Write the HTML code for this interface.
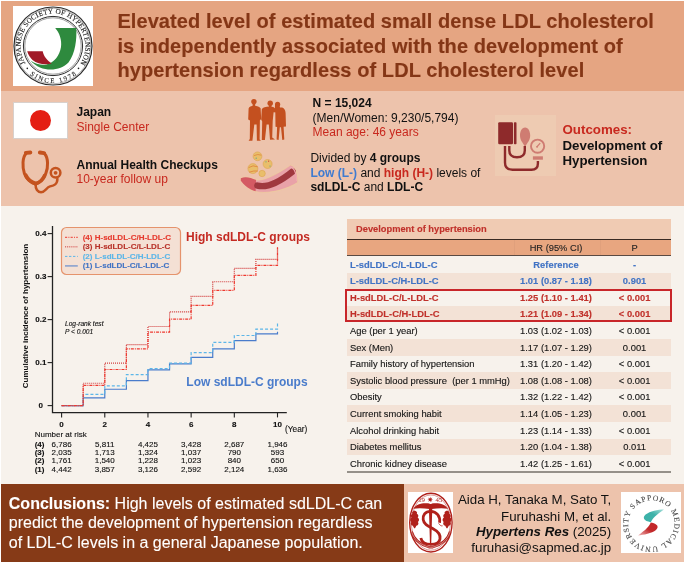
<!DOCTYPE html>
<html><head><meta charset="utf-8"><style>
html,body{margin:0;padding:0}
body{width:685px;height:563px;position:relative;overflow:hidden;background:#fff;font-family:"Liberation Sans",sans-serif;will-change:transform}
.abs{position:absolute}
.t{position:absolute;white-space:pre}
.s{-webkit-text-stroke:0.12px currentColor}
</style></head><body>
<div class="abs" style="left:1px;top:1px;width:683px;height:90px;background:#E5A582"></div><div class="abs" style="left:13px;top:6px;width:80px;height:80px;background:#fff"></div><div class="t" style="left:117.4px;top:9.22px;font-size:20px;line-height:24.3px;font-weight:bold;letter-spacing:0.08px;color:#843616;-webkit-text-stroke:0.15px #843616">Elevated level of estimated small dense LDL cholesterol<br>is independently associated with the development of<br>hypertension regardless of LDL cholesterol level</div><div class="abs" style="left:1px;top:91px;width:683px;height:115px;background:#EDC3AC"></div><div class="abs" style="left:13px;top:102px;width:53px;height:35px;background:#fff;border:1px solid #d8d0cc"></div><div class="abs" style="left:29.8px;top:109.6px;width:21.2px;height:21.2px;border-radius:50%;background:#E41E13"></div><div class="t" style="left:76.5px;top:105.14px;font-size:12px;line-height:14.4px"><b style="color:#111">Japan</b><br><span style="color:#C8281E">Single Center</span></div><div class="t" style="left:76.5px;top:157.94px;font-size:12px;line-height:14.4px"><b style="color:#111">Annual Health Checkups</b><br><span style="color:#C8281E">10-year follow up</span></div><div class="t" style="left:312.6px;top:96.09px;font-size:12px;line-height:14.5px;color:#111"><b>N = 15,024</b><br>(Men/Women: 9,230/5,794)<br><span style="color:#C8281E">Mean age: 46 years</span></div><div class="t" style="left:310.4px;top:150.89px;font-size:12px;line-height:14.7px;color:#111">Divided by <b>4 groups</b><br><b style="color:#3F7BD0">Low (L-)</b> and <b style="color:#C8281E">high (H-)</b> levels of<br><b>sdLDL-C</b> and <b>LDL-C</b></div><div class="abs" style="left:495px;top:114.5px;width:61px;height:61px;background:#EECBB2"></div><div class="t" style="left:562.5px;top:121.64px;font-size:13.3px;line-height:15.9px;font-weight:bold;color:#111"><span style="color:#C8281E">Outcomes:</span><br>Development of<br>Hypertension</div><div class="abs" style="left:1px;top:206px;width:683px;height:278px;background:#F7F2EC"></div><svg class="abs" style="left:0;top:0" width="685" height="563" viewBox="0 0 685 563"><path d="M52.5 226 V412.6 H286.8" fill="none" stroke="#222" stroke-width="1.3"/><path d="M47.6 405.60 H52.5" stroke="#222" stroke-width="1.1"/><path d="M47.6 362.60 H52.5" stroke="#222" stroke-width="1.1"/><path d="M47.6 319.60 H52.5" stroke="#222" stroke-width="1.1"/><path d="M47.6 276.60 H52.5" stroke="#222" stroke-width="1.1"/><path d="M47.6 233.60 H52.5" stroke="#222" stroke-width="1.1"/><path d="M61.60 412.6 V417.4" stroke="#222" stroke-width="1.1"/><path d="M104.78 412.6 V417.4" stroke="#222" stroke-width="1.1"/><path d="M147.96 412.6 V417.4" stroke="#222" stroke-width="1.1"/><path d="M191.14 412.6 V417.4" stroke="#222" stroke-width="1.1"/><path d="M234.32 412.6 V417.4" stroke="#222" stroke-width="1.1"/><path d="M277.50 412.6 V417.4" stroke="#222" stroke-width="1.1"/><path d="M61.60 405.60 H83.19 V397.86 H104.78 V389.26 H126.37 V380.66 H147.96 V369.91 H169.55 V363.89 H191.14 V357.44 H212.73 V348.84 H234.32 V340.67 H255.91 V333.79 H277.50 V331.64" fill="none" stroke="#4A7CCB" stroke-width="1.2"/><path d="M61.60 405.60 H83.19 V394.42 H104.78 V385.82 H126.37 V374.64 H147.96 V368.62 H169.55 V363.03 H191.14 V352.71 H212.73 V342.39 H234.32 V335.51 H255.91 V329.06 H277.50 V322.18" fill="none" stroke="#5CB6E8" stroke-width="1.2" stroke-dasharray="3 2"/><path d="M61.60 405.60 H83.19 V383.24 H104.78 V363.03 H126.37 V344.54 H147.96 V326.48 H169.55 V311.86 H191.14 V296.38 H212.73 V281.76 H234.32 V268.43 H255.91 V259.40 H277.50 V247.36" fill="none" stroke="#D23A3A" stroke-width="1.2" stroke-dasharray="1 1"/><path d="M61.60 405.60 H83.19 V385.39 H104.78 V369.48 H126.37 V348.84 H147.96 V332.07 H169.55 V319.17 H191.14 V305.41 H212.73 V290.36 H234.32 V275.31 H255.91 V265.42 H277.50 V247.36" fill="none" stroke="#EE3A30" stroke-width="1.2" stroke-dasharray="3 1 1 1"/><rect x="61.5" y="227.5" width="119" height="47" rx="5" fill="#F4E0D4" stroke="#E5936C" stroke-width="1.2"/><path d="M65 237.30 H77.8" stroke="#EE3A30" stroke-width="1.0" stroke-dasharray="2.2 1.2 1 1.2"/><path d="M65 246.85 H77.8" stroke="#D23A3A" stroke-width="1.0" stroke-dasharray="1 0.9"/><path d="M65 256.40 H77.8" stroke="#5CB6E8" stroke-width="1.0" stroke-dasharray="2.4 1.6"/><path d="M65 265.95 H77.8" stroke="#4A7CCB" stroke-width="1.0" stroke-dasharray=""/></svg><div class="t s" style="left:82.70px;top:232.68px;font-size:8px;line-height:9.5px;font-weight:bold;color:#E63A2E">(4) H-sdLDL-C/H-LDL-C</div>
<div class="t s" style="left:82.70px;top:242.23px;font-size:8px;line-height:9.5px;font-weight:bold;color:#B8332A">(3) H-sdLDL-C/L-LDL-C</div>
<div class="t s" style="left:82.70px;top:251.78px;font-size:8px;line-height:9.5px;font-weight:bold;color:#5CB6E8">(2) L-sdLDL-C/H-LDL-C</div>
<div class="t s" style="left:82.70px;top:261.33px;font-size:8px;line-height:9.5px;font-weight:bold;color:#4173C4">(1) L-sdLDL-C/L-LDL-C</div>
<div class="t s" style="left:25.80px;width:30px;text-align:center;top:401.23px;font-size:8px;line-height:9px;font-weight:bold;color:#111">0</div>
<div class="t s" style="left:25.80px;width:30px;text-align:center;top:358.23px;font-size:8px;line-height:9px;font-weight:bold;color:#111">0.1</div>
<div class="t s" style="left:25.80px;width:30px;text-align:center;top:315.23px;font-size:8px;line-height:9px;font-weight:bold;color:#111">0.2</div>
<div class="t s" style="left:25.80px;width:30px;text-align:center;top:272.23px;font-size:8px;line-height:9px;font-weight:bold;color:#111">0.3</div>
<div class="t s" style="left:25.80px;width:30px;text-align:center;top:229.23px;font-size:8px;line-height:9px;font-weight:bold;color:#111">0.4</div>
<div class="t s" style="left:46.60px;width:30px;text-align:center;top:420.03px;font-size:8px;line-height:9px;font-weight:bold;color:#111">0</div>
<div class="t s" style="left:89.78px;width:30px;text-align:center;top:420.03px;font-size:8px;line-height:9px;font-weight:bold;color:#111">2</div>
<div class="t s" style="left:132.96px;width:30px;text-align:center;top:420.03px;font-size:8px;line-height:9px;font-weight:bold;color:#111">4</div>
<div class="t s" style="left:176.14px;width:30px;text-align:center;top:420.03px;font-size:8px;line-height:9px;font-weight:bold;color:#111">6</div>
<div class="t s" style="left:219.32px;width:30px;text-align:center;top:420.03px;font-size:8px;line-height:9px;font-weight:bold;color:#111">8</div>
<div class="t s" style="left:262.50px;width:30px;text-align:center;top:420.03px;font-size:8px;line-height:9px;font-weight:bold;color:#111">10</div>
<div class="t s" style="left:285.00px;top:424.12px;font-size:8.3px;line-height:10px;color:#111">(Year)</div>
<div class="t" style="left:186.00px;top:229.94px;font-size:12px;line-height:14px;font-weight:bold;color:#C42A22">High sdLDL-C groups</div>
<div class="t" style="left:186.30px;top:374.84px;font-size:12px;line-height:14px;font-weight:bold;color:#4A7CCB">Low sdLDL-C groups</div>
<div class="t s" style="left:65.00px;top:319.91px;font-size:6.6px;line-height:8px;font-style:italic;color:#111">Log-rank test</div>
<div class="t s" style="left:65.00px;top:327.61px;font-size:6.6px;line-height:8px;font-style:italic;color:#111">P &lt; 0.001</div>
<div class="t" style="left:-54.40px;top:311.00px;width:160px;height:10px;font-size:8px;line-height:10px;font-weight:bold;color:#111;text-align:center;transform:rotate(-90deg)">Cumulative incidence of hypertension</div><div class="t s" style="left:34.70px;top:429.73px;font-size:8px;line-height:9px;color:#111">Number at risk</div>
<div class="t s" style="left:34.70px;top:439.63px;font-size:8px;line-height:9px;font-weight:bold;color:#111">(4)</div>
<div class="t s" style="left:41.60px;width:40px;text-align:center;top:439.63px;font-size:8px;line-height:9px;color:#111">6,786</div>
<div class="t s" style="left:84.78px;width:40px;text-align:center;top:439.63px;font-size:8px;line-height:9px;color:#111">5,811</div>
<div class="t s" style="left:127.96px;width:40px;text-align:center;top:439.63px;font-size:8px;line-height:9px;color:#111">4,425</div>
<div class="t s" style="left:171.14px;width:40px;text-align:center;top:439.63px;font-size:8px;line-height:9px;color:#111">3,428</div>
<div class="t s" style="left:214.32px;width:40px;text-align:center;top:439.63px;font-size:8px;line-height:9px;color:#111">2,687</div>
<div class="t s" style="left:257.50px;width:40px;text-align:center;top:439.63px;font-size:8px;line-height:9px;color:#111">1,946</div>
<div class="t s" style="left:34.70px;top:448.00px;font-size:8px;line-height:9px;font-weight:bold;color:#111">(3)</div>
<div class="t s" style="left:41.60px;width:40px;text-align:center;top:448.00px;font-size:8px;line-height:9px;color:#111">2,035</div>
<div class="t s" style="left:84.78px;width:40px;text-align:center;top:448.00px;font-size:8px;line-height:9px;color:#111">1,713</div>
<div class="t s" style="left:127.96px;width:40px;text-align:center;top:448.00px;font-size:8px;line-height:9px;color:#111">1,324</div>
<div class="t s" style="left:171.14px;width:40px;text-align:center;top:448.00px;font-size:8px;line-height:9px;color:#111">1,037</div>
<div class="t s" style="left:214.32px;width:40px;text-align:center;top:448.00px;font-size:8px;line-height:9px;color:#111">790</div>
<div class="t s" style="left:257.50px;width:40px;text-align:center;top:448.00px;font-size:8px;line-height:9px;color:#111">593</div>
<div class="t s" style="left:34.70px;top:456.37px;font-size:8px;line-height:9px;font-weight:bold;color:#111">(2)</div>
<div class="t s" style="left:41.60px;width:40px;text-align:center;top:456.37px;font-size:8px;line-height:9px;color:#111">1,761</div>
<div class="t s" style="left:84.78px;width:40px;text-align:center;top:456.37px;font-size:8px;line-height:9px;color:#111">1,540</div>
<div class="t s" style="left:127.96px;width:40px;text-align:center;top:456.37px;font-size:8px;line-height:9px;color:#111">1,228</div>
<div class="t s" style="left:171.14px;width:40px;text-align:center;top:456.37px;font-size:8px;line-height:9px;color:#111">1,023</div>
<div class="t s" style="left:214.32px;width:40px;text-align:center;top:456.37px;font-size:8px;line-height:9px;color:#111">840</div>
<div class="t s" style="left:257.50px;width:40px;text-align:center;top:456.37px;font-size:8px;line-height:9px;color:#111">650</div>
<div class="t s" style="left:34.70px;top:464.74px;font-size:8px;line-height:9px;font-weight:bold;color:#111">(1)</div>
<div class="t s" style="left:41.60px;width:40px;text-align:center;top:464.74px;font-size:8px;line-height:9px;color:#111">4,442</div>
<div class="t s" style="left:84.78px;width:40px;text-align:center;top:464.74px;font-size:8px;line-height:9px;color:#111">3,857</div>
<div class="t s" style="left:127.96px;width:40px;text-align:center;top:464.74px;font-size:8px;line-height:9px;color:#111">3,126</div>
<div class="t s" style="left:171.14px;width:40px;text-align:center;top:464.74px;font-size:8px;line-height:9px;color:#111">2,592</div>
<div class="t s" style="left:214.32px;width:40px;text-align:center;top:464.74px;font-size:8px;line-height:9px;color:#111">2,124</div>
<div class="t s" style="left:257.50px;width:40px;text-align:center;top:464.74px;font-size:8px;line-height:9px;color:#111">1,636</div>
<div class="abs" style="left:347px;top:219px;width:324px;height:20px;background:#F0CBB3"></div><div class="abs" style="left:347px;top:239px;width:324px;height:1px;background:#3a2a22"></div><div class="abs" style="left:347px;top:240px;width:324px;height:15.5px;background:#E8A680"></div><div class="abs" style="left:513.5px;top:240px;width:0.6px;height:15.5px;background:#E0A07C"></div><div class="abs" style="left:599.5px;top:240px;width:0.6px;height:15.5px;background:#E0A07C"></div><div class="abs" style="left:347px;top:255.3px;width:324px;height:1px;background:#5a4a42"></div><div class="t s" style="left:356.00px;top:223.98px;font-size:9.3px;line-height:11px;font-weight:bold;color:#C0302A">Development of hypertension</div>
<div class="t s" style="left:506.00px;width:100px;text-align:center;top:243.18px;font-size:9.3px;line-height:11px;color:#222">HR (95% CI)</div>
<div class="t s" style="left:604.60px;width:60px;text-align:center;top:243.18px;font-size:9.3px;line-height:11px;color:#222">P</div>
<div class="t s" style="left:350.00px;top:258.64px;font-size:9.4px;line-height:11px;font-weight:bold;color:#4173C4">L-sdLDL-C/L-LDL-C</div>
<div class="t s" style="left:501.00px;width:110px;text-align:center;top:258.64px;font-size:9.4px;line-height:11px;font-weight:bold;color:#4173C4">Reference</div>
<div class="t s" style="left:604.60px;width:60px;text-align:center;top:258.64px;font-size:9.4px;line-height:11px;font-weight:bold;color:#4173C4">-</div>
<div class="abs" style="left:347px;top:272.60px;width:324px;height:16.60px;background:#F3E2D6"></div><div class="t s" style="left:350.00px;top:275.24px;font-size:9.4px;line-height:11px;font-weight:bold;color:#4173C4">L-sdLDL-C/H-LDL-C</div>
<div class="t s" style="left:501.00px;width:110px;text-align:center;top:275.24px;font-size:9.4px;line-height:11px;font-weight:bold;color:#4173C4">1.01 (0.87 - 1.18)</div>
<div class="t s" style="left:604.60px;width:60px;text-align:center;top:275.24px;font-size:9.4px;line-height:11px;font-weight:bold;color:#4173C4">0.901</div>
<div class="t s" style="left:350.00px;top:291.84px;font-size:9.4px;line-height:11px;font-weight:bold;color:#C0302A">H-sdLDL-C/L-LDL-C</div>
<div class="t s" style="left:501.00px;width:110px;text-align:center;top:291.84px;font-size:9.4px;line-height:11px;font-weight:bold;color:#C0302A">1.25 (1.10 - 1.41)</div>
<div class="t s" style="left:604.60px;width:60px;text-align:center;top:291.84px;font-size:9.4px;line-height:11px;font-weight:bold;color:#C0302A">&lt; 0.001</div>
<div class="abs" style="left:347px;top:305.80px;width:324px;height:16.60px;background:#F3E2D6"></div><div class="t s" style="left:350.00px;top:308.44px;font-size:9.4px;line-height:11px;font-weight:bold;color:#C0302A">H-sdLDL-C/H-LDL-C</div>
<div class="t s" style="left:501.00px;width:110px;text-align:center;top:308.44px;font-size:9.4px;line-height:11px;font-weight:bold;color:#C0302A">1.21 (1.09 - 1.34)</div>
<div class="t s" style="left:604.60px;width:60px;text-align:center;top:308.44px;font-size:9.4px;line-height:11px;font-weight:bold;color:#C0302A">&lt; 0.001</div>
<div class="t s" style="left:350.00px;top:325.04px;font-size:9.4px;line-height:11px;color:#151515">Age (per 1 year)</div>
<div class="t s" style="left:501.00px;width:110px;text-align:center;top:325.04px;font-size:9.4px;line-height:11px;color:#151515">1.03 (1.02 - 1.03)</div>
<div class="t s" style="left:604.60px;width:60px;text-align:center;top:325.04px;font-size:9.4px;line-height:11px;color:#151515">&lt; 0.001</div>
<div class="abs" style="left:347px;top:339.00px;width:324px;height:16.60px;background:#F3E2D6"></div><div class="t s" style="left:350.00px;top:341.64px;font-size:9.4px;line-height:11px;color:#151515">Sex (Men)</div>
<div class="t s" style="left:501.00px;width:110px;text-align:center;top:341.64px;font-size:9.4px;line-height:11px;color:#151515">1.17 (1.07 - 1.29)</div>
<div class="t s" style="left:604.60px;width:60px;text-align:center;top:341.64px;font-size:9.4px;line-height:11px;color:#151515">0.001</div>
<div class="t s" style="left:350.00px;top:358.24px;font-size:9.4px;line-height:11px;color:#151515">Family history of hypertension</div>
<div class="t s" style="left:501.00px;width:110px;text-align:center;top:358.24px;font-size:9.4px;line-height:11px;color:#151515">1.31 (1.20 - 1.42)</div>
<div class="t s" style="left:604.60px;width:60px;text-align:center;top:358.24px;font-size:9.4px;line-height:11px;color:#151515">&lt; 0.001</div>
<div class="abs" style="left:347px;top:372.20px;width:324px;height:16.60px;background:#F3E2D6"></div><div class="t s" style="left:350.00px;top:374.84px;font-size:9.4px;line-height:11px;color:#151515">Systolic blood pressure  (per 1 mmHg)</div>
<div class="t s" style="left:501.00px;width:110px;text-align:center;top:374.84px;font-size:9.4px;line-height:11px;color:#151515">1.08 (1.08 - 1.08)</div>
<div class="t s" style="left:604.60px;width:60px;text-align:center;top:374.84px;font-size:9.4px;line-height:11px;color:#151515">&lt; 0.001</div>
<div class="t s" style="left:350.00px;top:391.44px;font-size:9.4px;line-height:11px;color:#151515">Obesity</div>
<div class="t s" style="left:501.00px;width:110px;text-align:center;top:391.44px;font-size:9.4px;line-height:11px;color:#151515">1.32 (1.22 - 1.42)</div>
<div class="t s" style="left:604.60px;width:60px;text-align:center;top:391.44px;font-size:9.4px;line-height:11px;color:#151515">&lt; 0.001</div>
<div class="abs" style="left:347px;top:405.40px;width:324px;height:16.60px;background:#F3E2D6"></div><div class="t s" style="left:350.00px;top:408.04px;font-size:9.4px;line-height:11px;color:#151515">Current smoking habit</div>
<div class="t s" style="left:501.00px;width:110px;text-align:center;top:408.04px;font-size:9.4px;line-height:11px;color:#151515">1.14 (1.05 - 1.23)</div>
<div class="t s" style="left:604.60px;width:60px;text-align:center;top:408.04px;font-size:9.4px;line-height:11px;color:#151515">0.001</div>
<div class="t s" style="left:350.00px;top:424.64px;font-size:9.4px;line-height:11px;color:#151515">Alcohol drinking habit</div>
<div class="t s" style="left:501.00px;width:110px;text-align:center;top:424.64px;font-size:9.4px;line-height:11px;color:#151515">1.23 (1.14 - 1.33)</div>
<div class="t s" style="left:604.60px;width:60px;text-align:center;top:424.64px;font-size:9.4px;line-height:11px;color:#151515">&lt; 0.001</div>
<div class="abs" style="left:347px;top:438.60px;width:324px;height:16.60px;background:#F3E2D6"></div><div class="t s" style="left:350.00px;top:441.24px;font-size:9.4px;line-height:11px;color:#151515">Diabetes mellitus</div>
<div class="t s" style="left:501.00px;width:110px;text-align:center;top:441.24px;font-size:9.4px;line-height:11px;color:#151515">1.20 (1.04 - 1.38)</div>
<div class="t s" style="left:604.60px;width:60px;text-align:center;top:441.24px;font-size:9.4px;line-height:11px;color:#151515">0.011</div>
<div class="t s" style="left:350.00px;top:457.84px;font-size:9.4px;line-height:11px;color:#151515">Chronic kidney disease</div>
<div class="t s" style="left:501.00px;width:110px;text-align:center;top:457.84px;font-size:9.4px;line-height:11px;color:#151515">1.42 (1.25 - 1.61)</div>
<div class="t s" style="left:604.60px;width:60px;text-align:center;top:457.84px;font-size:9.4px;line-height:11px;color:#151515">&lt; 0.001</div>
<div class="abs" style="left:345px;top:289px;width:323px;height:29px;border:2px solid #C8262A"></div><div class="abs" style="left:347px;top:471.2px;width:324px;height:1.7px;background:#959089"></div><div class="abs" style="left:1px;top:484px;width:403px;height:78px;background:#863A17"></div><div class="abs" style="left:404px;top:484px;width:280px;height:78px;background:#EDC3AC"></div><div class="t" style="left:8.8px;top:493.91px;font-size:16px;line-height:19.5px;color:#fff;-webkit-text-stroke:0.1px #fff"><b>Conclusions:</b> High levels of estimated sdLDL-C can<br>predict the development of hypertension regardless<br>of LDL-C levels in a general Japanese population.</div><div class="abs" style="left:408px;top:491.5px;width:45px;height:61px;background:#fff"></div><div class="abs" style="left:621px;top:492px;width:59.5px;height:60.5px;background:#fff"></div><div class="t" style="left:411.20px;width:200px;text-align:right;top:492.29px;font-size:13.3px;line-height:16px;color:#111;white-space:pre">Aida H, Tanaka M, Sato T,</div>
<div class="t" style="left:411.20px;width:200px;text-align:right;top:508.59px;font-size:13.3px;line-height:16px;color:#111;white-space:pre">Furuhashi M, et al.</div>
<div class="t" style="left:411.20px;width:200px;text-align:right;top:524.29px;font-size:13.3px;line-height:16px;color:#111;white-space:pre"><b><i>Hypertens Res</i></b> (2025)</div>
<div class="t" style="left:411.20px;width:200px;text-align:right;top:540.19px;font-size:13.3px;line-height:16px;color:#111;white-space:pre">furuhasi@sapmed.ac.jp</div>
<svg class="abs" style="left:0;top:0" width="685" height="563" viewBox="0 0 685 563"><circle cx="53" cy="46" r="39.0" fill="none" stroke="#2a2a2a" stroke-width="1.2"/><circle cx="53" cy="46" r="37.8" fill="none" stroke="#2a2a2a" stroke-width="0.35"/><circle cx="53" cy="46" r="29.6" fill="none" stroke="#2a2a2a" stroke-width="1.0"/><circle cx="53" cy="46" r="28.2" fill="none" stroke="#2a2a2a" stroke-width="0.45"/><path id="jtop" d="M25.52,63.17 A32.4,32.4 0 1 1 80.48,63.17" fill="none"/><text font-family="Liberation Serif" font-size="7.2" fill="#1a1a1a" stroke="#1a1a1a" stroke-width="0.12"><textPath href="#jtop" startOffset="0" textLength="138.0" lengthAdjust="spacing">JAPANESE SOCIETY OF HYPERTENSION</textPath></text><path id="jbot" d="M29.72,74.75 A37.0,37.0 0 0 0 76.28,74.75" fill="none"/><text font-family="Liberation Serif" font-size="6.8" fill="#1a1a1a" stroke="#1a1a1a" stroke-width="0.1"><textPath href="#jbot" startOffset="0" textLength="50.4" lengthAdjust="spacing">SINCE 1978</textPath></text><circle cx="27.3" cy="68.4" r="0.8" fill="#222"/><circle cx="78.5" cy="68.4" r="0.8" fill="#222"/><path d="M55.2,28.1 L76.3,28.1 C76.8,40 75.5,53 68.5,62.5 C62,69.5 50,71.5 40,67.5 C36.5,66 33,63.5 30.5,60.5 C36,64.5 42,65.5 46.5,64.5 C54,62.5 59.5,56 61,47 C62,40 59.5,33 55.2,28.1 Z" fill="#2E8A3E"/><path d="M27.2,51.2 L42.7,51.2 C43.6,56 47,60.5 51.8,63.4 C46,65 38,64.5 32.5,60 C30,57.5 28.2,54.5 27.2,51.2 Z" fill="#A11A28"/><g fill="none" stroke="#C4531F" stroke-linecap="round"><path d="M25.8,152.9 L30.4,152.5" stroke-width="3.8"/><path d="M39.8,152.5 L44.2,153.1" stroke-width="3.8"/><path d="M26.0,153.6 C22.4,157 22.2,167 24.4,173.5 C26.4,179 30.5,182.6 35.6,184" stroke-width="3.0"/><path d="M44.8,154 C48.2,158 48.4,167 45.8,173.5 C43.8,178.6 40.6,182.2 35.6,184" stroke-width="3.0"/><path d="M25.8,175.2 C27.8,179.5 31,182 35.6,183.6 C40,182.4 43,179.5 44.6,175.6" stroke-width="3.8"/><path d="M35.6,184 C35.4,189.2 37.6,192.2 41,192.2 C45,192.2 46.4,187.4 50,186.4 C54,185.4 57.4,184.6 57.4,178.8" stroke-width="2.5"/><circle cx="55.6" cy="172.8" r="4.8" stroke-width="2.5"/></g><circle cx="55.6" cy="172.8" r="1.9" fill="#C4531F"/><g fill="#C4501F"><circle cx="253.9" cy="101.6" r="2.7"/><rect x="252.6" y="103" width="2.6" height="4"/><rect x="268.9" y="104.6" width="2.6" height="3.6"/><path d="M275.2,103.5 Q274.4,108 275.6,111.5 L279.6,108 Z"/><path d="M248.6,108.5 Q249.5,106 254,105.8 Q258.8,106 260.6,108.3 L261.2,119 L259.9,120.2 L259.6,139.5 L261,140.8 L256.9,140.8 L256.6,124.5 L254.3,124.5 L252.4,140.8 L248.6,140.8 L249.8,139 L250,120.4 L248.2,119.6 Z"/><circle cx="270.2" cy="103.2" r="2.7"/><path d="M261.8,109.2 Q263.2,106.6 270,106.6 Q274,106.8 275.2,108.6 L277.8,110.4 L277,112.6 L273.6,112.2 L272.7,121 L272.2,137.5 L275,139.6 L270,139.8 L268.8,124.5 L266.6,124.5 L264.9,140 L261.8,140 L262.2,121.5 L261.2,119.5 Z"/><circle cx="277.6" cy="104.3" r="2.6"/><path d="M275.2,104.5 Q275,110 275.3,111 L275.5,126.7 L277.1,126.9 L276.6,139.6 L278.6,139.9 L279.8,127.2 L281,127.2 L282.3,139.9 L284.3,139.6 L283.6,126.8 L286,126.6 L285.6,113 Q285.3,108.8 282.2,107.6 L280,107.4 L279.2,104.2 Z"/></g><path d="M240.8,178.2 C245,176.2 250.5,177.2 256,180 C264,181.5 279,173 290.6,165 C295.5,166 298.5,176 297.6,182.6 C287,189 272,193.5 259,192.2 C250,191 244,185 240.8,180.8 Z" fill="#E9A2A8" stroke="#EFD49A" stroke-width="0.6"/><path d="M240.8,178.2 C245,176.2 250.5,177.2 256,180 L255.6,191.2 C249,189.6 244,185 240.8,180.8 Z" fill="#D45A63"/><path d="M257.4,185.6 C268,188.2 282,180 292.6,171.4" fill="none" stroke="#A0383F" stroke-width="6.4" stroke-linecap="round"/><path d="M290,167.5 C294,167 297,174 296.5,181" fill="none" stroke="#F0AAB0" stroke-width="1.2"/><circle cx="257.5" cy="156.3" r="4.4" fill="#E9BE6A" stroke="#DDA553" stroke-width="0.6"/><circle cx="267.6" cy="164" r="4.5" fill="#E9BE6A" stroke="#DDA553" stroke-width="0.6"/><circle cx="252.9" cy="168.6" r="5.0" fill="#E9BE6A" stroke="#DDA553" stroke-width="0.6"/><circle cx="262.1" cy="173.5" r="3.2" fill="#E9BE6A" stroke="#DDA553" stroke-width="0.6"/><path d="M248.6,167.6 Q253,164.5 257.6,166.8 M249.2,172.2 Q254,170.4 257.8,171" fill="none" stroke="#E0873E" stroke-width="0.9"/><path d="M254,155.6 Q258,153.6 261.4,155.2" fill="none" stroke="#E0873E" stroke-width="0.8"/><circle cx="266" cy="161.8" r="0.6" fill="#55a090"/><circle cx="270" cy="166" r="0.6" fill="#55a090"/><circle cx="268.6" cy="161.2" r="0.6" fill="#d04040"/><circle cx="256.2" cy="158.2" r="0.6" fill="#55a090"/><rect x="498.2" y="122.2" width="14.8" height="22" rx="1.2" fill="#8E2A2B"/><rect x="513.9" y="122.2" width="2.6" height="22" rx="0.8" fill="#8E2A2B"/><path d="M525.1,127.4 C528.5,127.4 530.2,131.5 530.2,135.5 C530.2,140 527.6,142.5 525.6,146 L524.6,146 C522.6,142.5 520,140 520,135.5 C520,131.5 521.7,127.4 525.1,127.4 Z" fill="#CF7C72"/><path d="M509.3,146 V150.5 C509.3,154.8 512,157.2 517,157.2 C522,157.2 524.8,154.8 524.8,150.5 V146" fill="none" stroke="#8E2A2B" stroke-width="2.4"/><path d="M505,146 V162.5 C505,167.5 507.5,169.7 512.5,169.7 H531.5 C536,169.7 537.9,167.5 537.9,163.5 V161" fill="none" stroke="#8E2A2B" stroke-width="2.4"/><circle cx="537.6" cy="146.2" r="6.6" fill="none" stroke="#CF7C72" stroke-width="1.9"/><path d="M536.8,147 L540.2,143.2" stroke="#CF7C72" stroke-width="1.2"/><circle cx="537" cy="146.8" r="0.9" fill="#CF7C72"/><rect x="532.9" y="156.3" width="10" height="3.4" fill="#CF7C72"/><ellipse cx="430.9" cy="522.6" rx="21.2" ry="29.4" fill="none" stroke="#B0211B" stroke-width="1.4"/><ellipse cx="430.9" cy="522.6" rx="19.5" ry="27.6" fill="none" stroke="#B0211B" stroke-width="0.45"/><text x="421.6" y="502.2" font-family="Liberation Serif" font-size="6.8" fill="#B0211B" text-anchor="middle">19</text><text x="438.8" y="502.2" font-family="Liberation Serif" font-size="6.8" fill="#B0211B" text-anchor="middle">45</text><polygon points="430.20,496.60 430.66,498.49 432.32,497.48 431.31,499.14 433.20,499.60 431.31,500.06 432.32,501.72 430.66,500.71 430.20,502.60 429.74,500.71 428.08,501.72 429.09,500.06 427.20,499.60 429.09,499.14 428.08,497.48 429.74,498.49" fill="#B0211B"/><path d="M429.6,503.6 C423.5,502.4 416.5,503.6 413.2,508.8 C418,507.8 424,508.2 429.6,509.0 Z" fill="#B0211B"/><path d="M431.6,503.6 C437.7,502.4 444.7,503.6 448.0,508.8 C443.2,507.8 437.2,508.2 431.6,509.0 Z" fill="#B0211B"/><path d="M428.8,504.0 L432.4,504.0 L431.2,545.2 L430.0,545.2 Z" fill="#B0211B"/><path d="M439.6,522.8 C440.6,516.4 436.6,511.4 430.6,511.4 C425,511.4 422.6,515.4 423.2,519.6 C423.8,524.6 429,526.6 433.4,529 C438.4,531.6 440.6,535.4 440,539 C439.4,542.6 435.6,544.4 431,544.4 C425.6,544.4 421.6,542 420.8,538" fill="none" stroke="#B0211B" stroke-width="2.8"/><path d="M438.6,523.4 C440.2,525.6 441.4,526.2 442.6,525.8" fill="none" stroke="#B0211B" stroke-width="0.8"/><g transform="translate(414.6,519.3) scale(1.1,1.05) translate(-414.6,-519.3)"><path d="M414.6,510.8 C416.8,511.4 417.20000000000005,513 416.6,514 C418.20000000000005,514.6 418.40000000000003,516.6 417.40000000000003,517.6 C419.0,518.4 419.0,521 417.6,521.8 C418.6,523 418.0,525.2 416.20000000000005,525.4 L415.0,527.8 L414.20000000000005,527.8 L413.0,525.4 C411.20000000000005,525.2 410.6,523 411.6,521.8 C410.20000000000005,521 410.20000000000005,518.4 411.8,517.6 C410.8,516.6 411.0,514.6 412.6,514 C412.0,513 412.40000000000003,511.4 414.6,510.8 Z" fill="#B0211B"/></g><g transform="translate(447.0,519.3) scale(1.1,1.05) translate(-447.0,-519.3)"><path d="M447.0,510.8 C449.2,511.4 449.6,513 449.0,514 C450.6,514.6 450.8,516.6 449.8,517.6 C451.4,518.4 451.4,521 450.0,521.8 C451.0,523 450.4,525.2 448.6,525.4 L447.4,527.8 L446.6,527.8 L445.4,525.4 C443.6,525.2 443.0,523 444.0,521.8 C442.6,521 442.6,518.4 444.2,517.6 C443.2,516.6 443.4,514.6 445.0,514 C444.4,513 444.8,511.4 447.0,510.8 Z" fill="#B0211B"/></g><path d="M411.6,531.6 Q415,543 429,547.2 L432.8,547.2 Q446.8,543 450.2,531.6" fill="none" stroke="#B0211B" stroke-width="2.4"/><path d="M411.6,531.6 Q415,543 429,547.2 L432.8,547.2 Q446.8,543 450.2,531.6" fill="none" stroke="#fff" stroke-width="0.9" stroke-dasharray="0.6 0.5"/><path id="smu" d="M633.18,509.44 A23.0,23.0 0 1 1 669.42,537.76 A23.0,23.0 0 1 1 633.18,509.44" fill="none"/><text font-family="Liberation Serif" font-size="7.6" fill="#4a4a4a" stroke="#4a4a4a" stroke-width="0.12"><textPath href="#smu" startOffset="0" textLength="141.3" lengthAdjust="spacing">SAPPORO MEDICAL UNIVERSITY</textPath></text><defs><linearGradient id="gt" x1="0" y1="1" x2="1" y2="0"><stop offset="0.55" stop-color="#3DB2A9"/><stop offset="1" stop-color="#A8E0DA"/></linearGradient><linearGradient id="gr" x1="1" y1="0" x2="0" y2="1"><stop offset="0.5" stop-color="#C2282A"/><stop offset="1" stop-color="#F0B8B8"/></linearGradient></defs><path d="M664,509.4 C658,509.4 650,511 645.6,514.6 C642.2,517.6 643.6,521.2 650.8,522.2 C652.4,518.6 656,514.6 664,509.4 Z" fill="url(#gt)"/><path d="M638,535.4 C643.5,535 651.8,533.4 656,530 C659.2,527.2 657.8,523.8 650.8,522.6 C649.4,526.2 645.8,530.2 638,535.4 Z" fill="url(#gr)"/></svg>
</body></html>
